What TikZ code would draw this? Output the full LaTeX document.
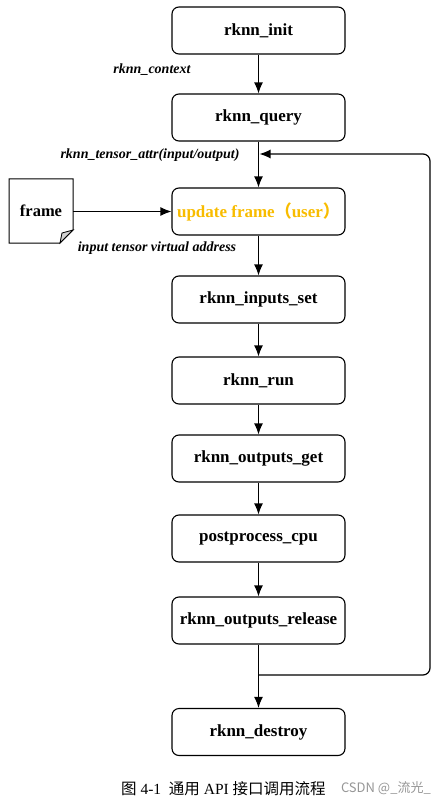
\documentclass[tikz,border=0pt]{standalone}
\usepackage{fontspec}
\usepackage{tikz}
\usetikzlibrary{arrows.meta}
\setmainfont{Liberation Serif}
\newfontfamily\cjk{Noto Sans CJK SC}
\definecolor{userorange}{RGB}{248,188,0}
\definecolor{markgray}{RGB}{150,150,150}
\tikzset{
	apibox/.style={draw, line width=1.1pt, rounded corners=7pt, minimum width=173pt, minimum height=47pt, inner sep=0pt, font=\fontsize{17}{19}\selectfont\bfseries},
	lbl/.style={font=\fontsize{14}{16}\selectfont\bfseries\itshape},
	flow/.style={line width=1.2pt, -{Latex[length=11pt,width=9pt]}}
}

\begin{document}
\begin{tikzpicture}[x=1pt, y=-1pt]
	\useasboundingbox (0,0) rectangle (444,802);
	% Boites de l'API
	\node[apibox] (init) at (258.5, 30.5) {rknn\_init};
	\node[apibox] (query) at (258.5, 117.5) {rknn\_query};
	\node[apibox, text=userorange] (update) at (258.5, 211.5) {update frame{\cjk （}user{\cjk ）}};
	\node[apibox] (inset) at (258.5, 299.5) {rknn\_inputs\_set};
	\node[apibox] (run) at (258.5, 380.5) {rknn\_run};
	\node[apibox] (outget) at (258.5, 458.5) {rknn\_outputs\_get};
	\node[apibox] (post) at (258.5, 538.5) {postprocess\_cpu};
	\node[apibox] (outrel) at (258.5, 620.5) {rknn\_outputs\_release};
	\node[apibox] (destroy) at (258.5, 732) {rknn\_destroy};
	% document frame
	\draw[line width=1pt] (9, 179) -- (73, 179) -- (73, 230) -- (60, 243) -- (9, 243) -- cycle;
	\draw[line width=0.8pt, fill=gray!35] (73, 230) -- (62, 233) -- (60, 243) -- cycle;
	\node[font=\fontsize{16.5}{18}\selectfont\bfseries] (frame) at (41, 211) {frame};
	\coordinate (frameR) at (73, 211.5);
	% fleches
	\draw[flow] (init) -- (query);
	\draw[flow] (query) -- (update);
	\draw[flow] (frameR) -- (update);
	\draw[flow] (update) -- (inset);
	\draw[flow] (inset) -- (run);
	\draw[flow] (run) -- (outget);
	\draw[flow] (outget) -- (post);
	\draw[flow] (post) -- (outrel);
	\draw[flow] (outrel) -- (destroy);
	% boucle
	\coordinate (split) at (258.5, 675);
	\coordinate (join) at (259.5, 154);
	\draw[flow, rounded corners=7pt] (split) -- (430, 675) -- (430, 154) -- (join);
	% etiquettes
	\node[lbl] (ctx) at (152, 70) {rknn\_context};
	\node[lbl] (attr) at (150, 155) {rknn\_tensor\_attr(input/output)};
	\node[lbl] (addr) at (157, 248) {input tensor virtual address};
	% legende
	\node[font=\fontsize{15.5}{17}\selectfont, anchor=west, inner sep=0pt] (cap) at (121, 789) {{\cjk 图} 4-1\ \ {\cjk 通用} API {\cjk 接口调用流程}};
	\node[font=\cjk\fontsize{13}{14}\selectfont, text=markgray, anchor=east, inner sep=0pt] (mark) at (431, 788) {CSDN @\_流光\_};
\end{tikzpicture}
\end{document}
